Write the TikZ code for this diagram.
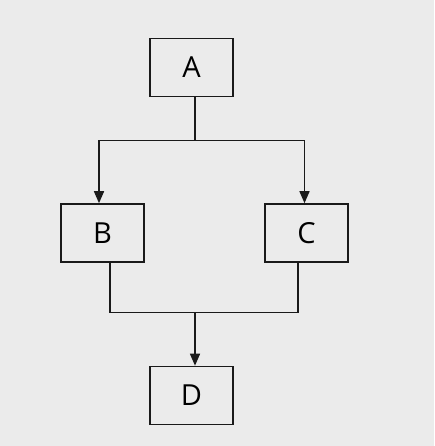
\documentclass[tikz,border=0pt]{standalone}
\usepackage{fontspec}
\setmainfont{Open Sans}
\usetikzlibrary{arrows.meta,calc}
\definecolor{bg}{HTML}{EBEBEB}
\definecolor{ink}{HTML}{1A1A1A}
\tikzset{
  box/.style={draw=ink, line width=1.6pt, fill=bg, minimum width=83pt, minimum height=58pt, inner sep=0pt, font=\fontsize{29}{32}\selectfont, text=black},
  wire/.style={draw=ink, line width=1.5pt},
  arr/.style={wire, -{Triangle[length=12pt,width=10pt]}}
}
\begin{document}
\begin{tikzpicture}[x=1pt,y=-1pt]
\fill[bg] (0,0) rectangle (434,446);
\useasboundingbox (0,0) rectangle (434,446);
\node[box] (A) at (191.5,67.5) {A};
\node[box] (B) at (102.5,233) {B};
\node[box] (C) at (306.5,233) {C};
\node[box] (D) at (191.5,395.5) {D};
\coordinate (j1) at (195,140.5);
\coordinate (xb) at (99,0);
\coordinate (xc) at (304.5,0);
\coordinate (xbo) at (110,0);
\coordinate (xco) at (298,0);
\coordinate (j2) at (195,312.5);
\draw[wire] (A.south -| j1) -- (j1);
\draw[arr] (j1) -| (xb |- B.north);
\draw[arr] (j1) -| (xc |- C.north);
\draw[wire] (xbo |- B.south) |- (j2) -| (xco |- C.south);
\draw[arr] (j2) -- (D.north -| j2);
\end{tikzpicture}
\end{document}
